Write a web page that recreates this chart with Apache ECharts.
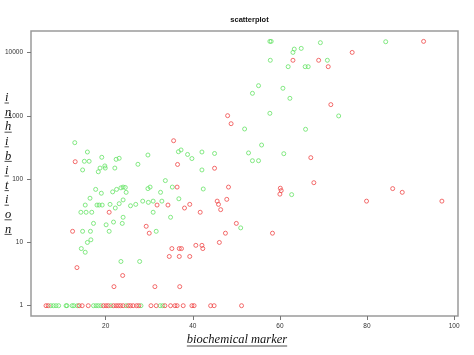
<!DOCTYPE html>
<html>
<head>
<meta charset="utf-8">
<script src="https://cdn.jsdelivr.net/npm/echarts@6/dist/echarts.min.js"></script>
<style>
  html, body { margin: 0; padding: 0; background: #fff; }
  #chart { width: 474px; height: 355px; }
</style>
</head>
<body>
<div id="chart"></div>
<script>
// values (x = marker, y = inhibition, log scale)
const greenX = [12.9, 15.8, 15.1, 16.2, 14.7, 19.1, 18.7, 19.8, 19.9, 18.3,
  22.1, 22.4, 23.1, 27.4, 29.7, 36.7, 37.3, 38.8, 39.8, 42.1,
  42.1, 45.0, 52.8, 33.7, 17.7, 19.0, 16.4, 21.6, 22.5, 23.5,
  24.0, 24.5, 24.7, 15.3, 18.0, 18.5, 19.2, 21.0, 22.2, 23.1,
  24.0, 25.7, 26.9, 28.5, 14.3, 15.5, 16.8, 24.0, 17.2, 20.1,
  21.8, 23.8, 14.7, 16.5, 20.8, 16.6, 15.8, 14.4, 15.3, 29.7,
  30.2, 32.6, 29.8, 30.9, 32.9, 35.3, 36.8, 30.9, 34.9, 31.6,
  23.5, 27.8, 42.4, 51.0, 62.7, 57.7, 58.0, 69.3, 84.3, 64.9,
  63.3, 63.0, 57.8, 70.9, 61.9, 65.8, 66.5, 55.1, 53.7, 60.7,
  62.3, 57.7, 73.5, 51.9, 65.9, 55.8, 60.9, 53.7, 55.1,
  7.4, 8.0, 8.6, 9.2, 10.9, 11.1, 12.3, 12.7, 13.5, 17.2,
  17.8, 18.3, 18.9, 21.2, 24.7, 28.1, 32.5, 33.1]
const greenY = [378, 269, 192, 192, 140, 222, 150, 162, 150, 131,
  150, 206, 214, 172, 241, 272, 290, 246, 212, 269,
  140, 255, 260, 95, 69, 60, 50, 63, 69, 73,
  75, 74, 62, 39, 39, 39, 39, 40, 35, 41,
  47, 38, 40, 45, 30, 30, 30, 25, 20, 19,
  21, 20, 15, 15, 15, 11, 10, 8, 7, 71,
  75, 62, 43, 45, 45, 75, 49, 30, 25, 15,
  5, 5, 70, 17, 57, 15100, 15100, 14400, 14900, 11700,
  11400, 10100, 7590, 7590, 6010, 6010, 6010, 3010, 2280, 2740,
  1900, 1100, 1000, 622, 615, 347, 253, 196, 196,
  1, 1, 1, 1, 1, 1, 1, 1, 1, 1,
  1, 1, 1, 1, 1, 1, 1, 1]

const redX = [48.0, 48.8, 13.0, 35.6, 36.5, 45.0, 31.8, 34.3, 36.4, 38.1,
  39.3, 41.7, 45.6, 45.9, 46.4, 47.8, 48.2, 20.8, 29.3, 30.0,
  12.4, 50.0, 47.5, 46.1, 40.7, 42.1, 42.3, 35.2, 36.9, 37.4,
  34.6, 36.9, 39.3, 13.4, 23.9, 21.9, 31.3, 37.0, 58.3, 67.8,
  60.1, 60.3, 60.0, 85.9, 88.1, 79.9, 97.2, 93.0, 76.6, 63.0,
  68.9, 71.1, 71.7, 67.1,
  6.3, 6.8, 13.9, 14.6, 16.0, 19.5, 20.1, 20.6, 21.8, 22.4,
  22.9, 23.4, 24.0, 25.2, 25.7, 26.3, 27.1, 27.6, 30.4, 31.6,
  33.6, 34.9, 35.9, 36.4, 37.8, 39.8, 40.3, 44.1, 44.9, 51.2]
const redY = [1010, 754, 189, 406, 171, 149, 39, 39, 75, 35,
  40, 30, 45, 40, 33, 48, 75, 30, 18, 14,
  15, 20, 14, 10, 9, 9, 8, 8, 8, 8,
  6, 6, 6, 4, 3, 2, 2, 2, 14, 88,
  72, 66, 58, 71, 62, 45, 45, 15100, 10100, 7590,
  7590, 6010, 1510, 219,
  1, 1, 1, 1, 1, 1, 1, 1, 1, 1,
  1, 1, 1, 1, 1, 1, 1, 1, 1, 1,
  1, 1, 1, 1, 1, 1, 1, 1, 1, 1]

const xTicks = [20, 40, 60, 80, 100]
const yTicks = [1, 10, 100, 1000, 10000]

const titleText = 'scatterplot'
const xName = 'biochemical marker'
const yName = 'inhibition'

const chart = echarts.init(document.getElementById('chart'), null, { renderer: 'canvas' })

const labelFont = 'italic 12.5px "Liberation Serif"'
const measure = document.createElement('canvas').getContext('2d')
measure.font = labelFont

// stacked, underlined y label
const yLabel = []
yName.split('').forEach((ch, i) => {
  const cy = 98 + i * 14.6
  const w = measure.measureText(ch).width
  yLabel.push({
    type: 'text', x: 5, y: cy, silent: true,
    style: { text: ch, font: labelFont, fill: '#111', verticalAlign: 'middle', align: 'left' }
  })
  yLabel.push({
    type: 'line', silent: true,
    shape: { x1: 4.5, y1: cy + 5, x2: 5.5 + w, y2: cy + 5 },
    style: { stroke: '#222', lineWidth: 0.8 }
  })
})

const xw = measure.measureText(xName).width

const pairs = (xs, ys) => xs.map((x, i) => [x, ys[i]])

const dot = (name, color, xs, ys) => ({
  name,
  type: 'scatter',
  symbol: 'circle',
  symbolSize: 4,
  data: pairs(xs, ys),
  itemStyle: { color: 'rgba(0,0,0,0)', borderColor: color, borderWidth: 1 },
  emphasis: { disabled: true },
  silent: true
})

chart.setOption({
  animation: false,
  backgroundColor: '#fff',
  title: {
    text: titleText,
    left: 244.5,
    textAlign: 'center',
    top: 11,
    textStyle: { fontSize: 7.5, fontWeight: 'bold', fontFamily: 'Liberation Sans', color: '#111' }
  },
  grid: {
    left: 31, top: 31, width: 427, height: 285,
    show: true, borderColor: '#9a9a9a', borderWidth: 1.5, backgroundColor: 'transparent'
  },
  xAxis: {
    type: 'value',
    min: 2.85,
    max: 100.9,
    axisLine: { show: false },
    splitLine: { show: false },
    axisTick: { show: true, inside: false, length: 4, customValues: xTicks, lineStyle: { color: '#777' } },
    axisLabel: {
      customValues: xTicks, margin: 7, fontSize: 6.5, fontFamily: 'Liberation Sans', color: '#333',
      formatter: v => String(v)
    }
  },
  yAxis: {
    type: 'log',
    logBase: 10,
    min: 0.687,
    max: 22030,
    axisLine: { show: false },
    splitLine: { show: false },
    axisTick: { show: true, inside: false, length: 4, customValues: yTicks, lineStyle: { color: '#777' } },
    axisLabel: {
      customValues: yTicks, margin: 8, fontSize: 6.5, fontFamily: 'Liberation Sans', color: '#333',
      formatter: v => String(Math.round(v))
    }
  },
  graphic: [
    ...yLabel,
    {
      type: 'text', x: 237, y: 340, silent: true,
      style: { text: xName, font: labelFont, fill: '#111', align: 'center', verticalAlign: 'middle' }
    },
    {
      type: 'line', silent: true,
      shape: { x1: 237 - xw / 2, y1: 346, x2: 237 + xw / 2, y2: 346 },
      style: { stroke: '#222', lineWidth: 0.8 }
    }
  ],
  series: [
    dot('green', '#66e466', greenX, greenY),
    dot('red', '#f04848', redX, redY)
  ]
})
</script>
</body>
</html>
